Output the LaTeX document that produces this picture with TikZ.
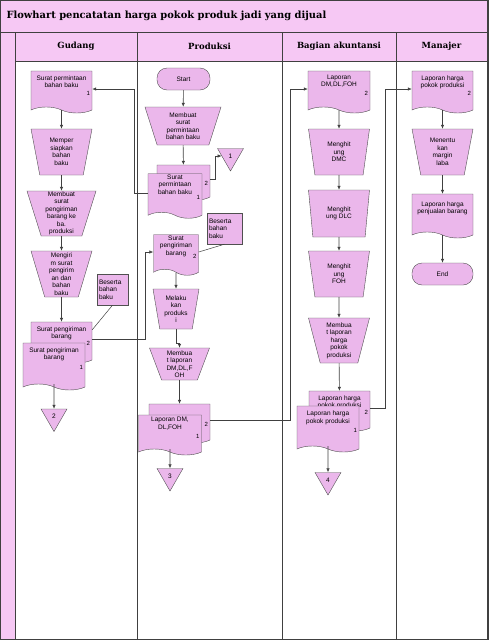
\documentclass[tikz,border=0pt]{standalone}
\usepackage{fontspec}
\setmainfont{Liberation Sans}
\newfontfamily\titlefont{DejaVu Serif}
\usetikzlibrary{shapes.geometric, shapes.symbols, arrows.meta, positioning}
\definecolor{pinkbg}{HTML}{F6C8F4}
\definecolor{pinkbox}{HTML}{EBB7EB}
\definecolor{edgegray}{HTML}{505050}
\definecolor{framegray}{HTML}{404040}

\begin{document}
\begin{tikzpicture}[x=1pt, y=-1pt, every node/.style={align=center},
    doc/.style={tape, tape bend top=none, tape bend bottom=out and in,
      tape bend height=6pt, draw=edgegray, fill=pinkbox, inner sep=1pt,
      minimum width=61pt, minimum height=42pt, text depth=15pt,
      font=\fontsize{6.5}{7.5}\selectfont},
    numlbl/.style={anchor=east, xshift=-1pt, yshift=-4pt, inner sep=1pt,
      font=\fontsize{6}{6}\selectfont},
    docnum/.style={label={[numlbl]east:#1}},
    proc/.style={trapezium, trapezium left angle=72, trapezium right angle=72,
      shape border rotate=180, trapezium stretches body, minimum width=61pt,
      minimum height=46pt, inner sep=0pt, draw=edgegray, fill=pinkbox,
      font=\fontsize{6.5}{7.5}\selectfont},
    term/.style={rectangle, rounded corners=10pt, minimum width=53pt,
      minimum height=22pt, draw=edgegray, fill=pinkbox,
      font=\fontsize{6.5}{7.5}\selectfont},
    offpage/.style={regular polygon, regular polygon sides=3,
      shape border rotate=180, minimum size=30pt, inner sep=0pt,
      draw=edgegray, fill=pinkbox, font=\fontsize{6.5}{7.5}\selectfont},
    note/.style={rectangle, text width=27pt, align=left, inner sep=2pt,
      minimum height=31pt, draw=edgegray, fill=pinkbox,
      font=\fontsize{6.5}{7.5}\selectfont},
    lanehead/.style={font=\titlefont\bfseries\fontsize{8.5}{10}\selectfont},
    arr/.style={-{Latex[length=4pt, width=3.5pt]}, color=framegray, line width=0.6pt},
    lnk/.style={color=framegray, line width=0.5pt}
  ]
    \useasboundingbox (0,0) rectangle (488,640);

    % -- frame and lanes
    \fill[pinkbg] (0,0) rectangle (488,61);
    \fill[pinkbg] (0,61) rectangle (15,640);
    \draw[framegray, line width=0.8pt] (0,32) -- (488,32);
    \draw[framegray, line width=0.8pt] (15,61) -- (488,61);
    \foreach \x in {15,137,282,396}
      \draw[framegray, line width=0.8pt] (\x,32) -- (\x,640);
    \draw[framegray, line width=1.2pt] (0,0) rectangle (488,640);

    \node[anchor=west, font=\titlefont\bfseries\fontsize{9.9}{11}\selectfont] (title) at (3,16)
      {Flowhart pencatatan harga pokok produk jadi yang dijual};
    \node[lanehead] (hgud) at (76,46.5) {Gudang};
    \node[lanehead] (hpro) at (209.5,46.5) {Produksi};
    \node[lanehead] (hbag) at (339,46.5) {Bagian akuntansi};
    \node[lanehead] (hman) at (441.5,46.5) {Manajer};

    % -- Gudang
    \node[doc, docnum=1] (gdoc1) at (61.5,89) {Surat permintaan\\bahan baku};
    \node[proc] (gproc1) at (61.5,152) {Memper\\siapkan\\bahan\\baku};
    \node[proc, minimum width=69pt, minimum height=45pt] (gproc2) at (61.5,213.5)
      {Membuat\\surat\\pengiriman\\barang ke\\ba.\\produksi};
    \node[proc] (gproc3) at (61.5,274) {Mengiri\\m surat\\pengirim\\an dan\\bahan\\baku};
    \node[note] (gnote) at (112.5,289.5) {Beserta\\bahan\\baku};
    \node[doc, docnum=2, minimum height=41pt, text depth=14pt] (gdoc2b) at (61.5,339.5)
      {Surat pengiriman\\barang};
    \node[doc, docnum=1, minimum width=62pt, minimum height=47pt, text depth=20pt] (gdoc2f) at (54,363.5)
      {Surat pengiriman\\barang};
    \node[offpage] (gconn2) at (54,416.5) {2};

    % -- Produksi
    \node[term] (pstart) at (183.5,79) {Start};
    \node[proc, trapezium left angle=66, trapezium right angle=66,
      minimum width=76pt, minimum height=38pt] (pproc1) at (183,126)
      {Membuat\\surat\\permintaan\\bahan baku};
    \node[doc, docnum=2, minimum width=53pt, minimum height=35pt] (pdoc1b) at (183.5,179.5) {};
    \node[doc, docnum=1, minimum width=54pt, minimum height=40pt, text depth=17pt] (pdoc1f) at (175,193)
      {Surat\\permintaan\\bahan baku};
    \node[offpage] (pconn1) at (230.5,156) {1};
    \node[note, text width=31pt, minimum height=31pt] (pnote) at (224.5,228.5) {Beserta\\bahan\\baku};
    \node[doc, docnum=2, minimum width=45pt, minimum height=32pt, text depth=13pt] (pdoc2) at (176,252)
      {Surat\\pengiriman\\barang};
    \node[proc, trapezium left angle=76, trapezium right angle=76,
      minimum width=46pt, minimum height=40pt] (pproc2) at (176,309)
      {Melaku\\kan\\produks\\i};
    \node[proc, trapezium left angle=66, trapezium right angle=66,
      minimum width=60pt, minimum height=32pt] (pproc3) at (179.5,364)
      {Membua\\t laporan\\DM,DL,F\\OH};
    \node[doc, docnum=2, minimum height=39pt] (pdoc3b) at (179.5,420.5) {};
    \node[doc, docnum=1, minimum width=63pt, minimum height=40pt, text depth=17pt] (pdoc3f) at (170,432)
      {Laporan DM,\\DL,FOH};
    \node[offpage] (pconn3) at (170,476) {3};

    % -- Bagian akuntansi
    \node[doc, docnum=2, minimum width=62pt, text depth=16pt] (adoc1) at (339,89) {Laporan\\DM,DL,FOH};
    \node[proc] (aproc1) at (339,152) {Menghit\\ung\\DMC};
    \node[proc, minimum height=47pt] (aproc2) at (339,213.5) {Menghit\\ung DLC};
    \node[proc] (aproc3) at (339,274) {Menghit\\ung\\FOH};
    \node[proc, minimum height=45pt] (aproc4) at (339,340.5)
      {Membua\\t laporan\\harga\\pokok\\produksi};
    \node[doc, docnum=2, minimum height=40pt, text depth=13pt] (adoc2b) at (339.5,408)
      {Laporan harga\\pokok produksi};
    \node[doc, docnum=1, minimum width=62pt, minimum height=46pt, text depth=18pt] (adoc2f) at (328,426)
      {Laporan harga\\pokok produksi};
    \node[offpage] (aconn4) at (328,480) {4};

    % -- Manajer
    \node[doc, docnum=2, text depth=15pt] (mdoc1) at (442.5,89) {Laporan harga\\pokok produksi};
    \node[proc] (mproc1) at (442.5,152) {Menentu\\kan\\margin\\laba};
    \node[doc, minimum height=44pt, text depth=11pt] (mdoc2) at (442.5,213)
      {Laporan harga\\penjualan barang};
    \node[term, minimum width=61pt] (mend) at (442.5,274) {End};

    % -- Arrows
    \draw[arr] (gdoc1) -- (gproc1);
    \draw[arr] (gproc1) -- (gproc2);
    \draw[arr] (gproc2) -- (gproc3);
    \draw[arr] (gproc3) -- (gdoc2b);
    \draw[arr] (gdoc2f.south) -- (gconn2.north);
    \draw[lnk] (gnote.south) -- ([yshift=-8pt]gdoc2b.north east);
    \draw[arr] (gdoc2b.east) -- ++(53,0) |- (pdoc2.west);

    \draw[arr] (pstart) -- (pproc1);
    \draw[arr] (pproc1) -- (pdoc1b);
    \draw[arr] (pdoc1b.east) -- ++(5,0) |- (pconn1.west);
    \draw[arr] (pdoc1f.west) -- ++(-14,0) |- (gdoc1.east);
    \draw[lnk] (pnote.south) -- (pdoc2.east);
    \draw[arr] (pdoc2) -- (pproc2);
    \draw[arr] (pproc2.south) -- ++(0,14) -| (pproc3.north);
    \draw[arr] (pproc3) -- (pdoc3b);
    \draw[arr] (pdoc3f.south) -- (pconn3.north);
    \draw[arr] (pdoc3b.east) -- ++(80,0) |- (adoc1.west);

    \draw[arr] (adoc1) -- (aproc1);
    \draw[arr] (aproc1) -- (aproc2);
    \draw[arr] (aproc2) -- (aproc3);
    \draw[arr] (aproc3) -- (aproc4);
    \draw[arr] (aproc4) -- (adoc2b);
    \draw[arr] (adoc2f.south) -- (aconn4.north);
    \draw[arr] (adoc2b.east) -- ++(15,0) |- (mdoc1.west);

    \draw[arr] (mdoc1) -- (mproc1);
    \draw[arr] (mproc1) -- (mdoc2);
    \draw[arr] (mdoc2) -- (mend);
  \end{tikzpicture}
\end{document}
